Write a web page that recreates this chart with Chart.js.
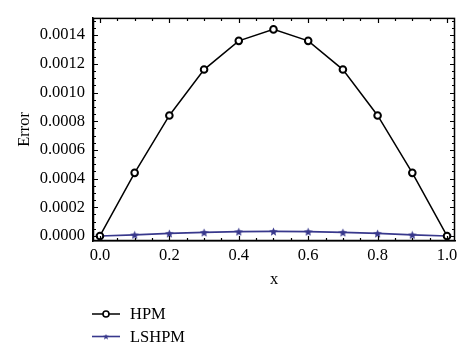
<!DOCTYPE html>
<html>
<head>
<meta charset="utf-8">
<script src="https://cdn.jsdelivr.net/npm/chart.js@4/dist/chart.umd.min.js"></script>
<style>
html,body{margin:0;padding:0;background:#fff;}
#wrap{width:474px;height:357px;position:relative;}
</style>
</head>
<body>
<div id="wrap"><canvas id="c" width="474" height="357"></canvas></div>
<script>
const xValues = [0.0, 0.1, 0.2, 0.3, 0.4, 0.5, 0.6, 0.7, 0.8, 0.9, 1.0];
const hpmValues = [0, 0.00044, 0.00084, 0.00116, 0.00136, 0.00144, 0.00136, 0.00116, 0.00084, 0.00044, 0];
const lshpmValues = [0, 0.000008, 0.000018, 0.000025, 0.00003, 0.000032, 0.00003, 0.000025, 0.000018, 0.000008, 0];
const xTickLabels = [0.0, 0.2, 0.4, 0.6, 0.8, 1.0];
const yTickLabels = [0, 0.0002, 0.0004, 0.0006, 0.0008, 0.0010, 0.0012, 0.0014];
const xMinor = 0.05;
const yMinor = 0.00005;
const seriesNames = ['HPM', 'LSHPM'];

const FONT = '"Liberation Serif", "DejaVu Serif", serif';
const navy = '#38388c';

function starCanvas(size, color) {
  const c = document.createElement('canvas');
  c.width = size; c.height = size;
  const g = c.getContext('2d');
  const cx = size / 2, cy = size / 2 + 0.5, R = size / 2, r = R * 0.45;
  g.beginPath();
  for (let i = 0; i < 10; i++) {
    const a = -Math.PI / 2 + i * Math.PI / 5;
    const rr = i % 2 === 0 ? R : r;
    const px = cx + rr * Math.cos(a), py = cy + rr * Math.sin(a);
    if (i === 0) g.moveTo(px, py); else g.lineTo(px, py);
  }
  g.closePath();
  g.fillStyle = color;
  g.fill();
  return c;
}
const star = starCanvas(9, navy);

const frameTicks = {
  id: 'frameTicks',
  afterDatasetsDraw(chart) {
    const ctx = chart.ctx;
    const a = chart.chartArea;
    const xs = chart.scales.x, ys = chart.scales.y;
    ctx.save();
    ctx.strokeStyle = '#000';
    ctx.lineWidth = 1.5;
    ctx.strokeRect(a.left + 0.5, a.top + 0.5, a.right - a.left - 1, a.bottom - a.top - 1);
    ctx.lineWidth = 1.2;
    ctx.beginPath();
    const nx = Math.round((xs.max - xs.min) / xMinor) + 2;
    for (let i = -2; i < nx; i++) {
      const v = Math.round((i * xMinor) * 1000) / 1000;
      if (v < xs.min || v > xs.max) continue;
      const px = Math.round(xs.getPixelForValue(v)) + 0.5;
      const major = Math.abs(v / 0.2 - Math.round(v / 0.2)) < 1e-6;
      const L = major ? 5 : 3;
      ctx.moveTo(px, a.bottom); ctx.lineTo(px, a.bottom - L);
      ctx.moveTo(px, a.top); ctx.lineTo(px, a.top + L);
    }
    const ny = Math.round((ys.max - ys.min) / yMinor) + 2;
    for (let i = -2; i < ny; i++) {
      const v = i * yMinor;
      if (v < ys.min || v > ys.max) continue;
      const py = Math.round(ys.getPixelForValue(v)) + 0.5;
      const major = Math.abs(v / 0.0002 - Math.round(v / 0.0002)) < 1e-6;
      const L = major ? 5 : 3;
      ctx.moveTo(a.left, py); ctx.lineTo(a.left + L, py);
      ctx.moveTo(a.right, py); ctx.lineTo(a.right - L, py);
    }
    ctx.stroke();
    ctx.restore();
  }
};

const customLegend = {
  id: 'customLegend',
  afterDraw(chart) {
    const ctx = chart.ctx;
    const a = chart.chartArea;
    const x0 = a.left - 1, x1 = a.left + 27;
    const ys = [314, 336.5];
    ctx.save();
    chart.data.datasets.forEach((ds, i) => {
      const y = ys[i];
      ctx.strokeStyle = ds.borderColor;
      ctx.lineWidth = ds.borderWidth;
      ctx.beginPath();
      ctx.moveTo(x0, y); ctx.lineTo(x1, y);
      ctx.stroke();
      const mx = (x0 + x1) / 2;
      if (i === 0) {
        ctx.fillStyle = '#fff';
        ctx.lineWidth = 1.6;
        ctx.beginPath(); ctx.arc(mx, y, 3, 0, Math.PI * 2); ctx.fill(); ctx.stroke();
      } else {
        ctx.drawImage(star, mx - 3, y - 3, 6, 6);
      }
      ctx.fillStyle = '#000';
      ctx.font = '16.5px ' + FONT;
      ctx.textBaseline = 'middle';
      ctx.textAlign = 'left';
      ctx.fillText(ds.label, x1 + 10, y + 1);
    });
    ctx.restore();
  }
};

new Chart(document.getElementById('c'), {
  type: 'line',
  data: {
    datasets: [
      {
        label: seriesNames[0],
        data: xValues.map((x, i) => ({ x: x, y: hpmValues[i] })),
        borderColor: '#000',
        borderWidth: 1.5,
        pointStyle: 'circle',
        pointRadius: 3.3,
        pointBorderWidth: 2,
        pointBackgroundColor: '#fff',
        pointBorderColor: '#000',
        tension: 0,
        clip: false
      },
      {
        label: seriesNames[1],
        data: xValues.map((x, i) => ({ x: x, y: lshpmValues[i] })),
        borderColor: navy,
        borderWidth: 1.6,
        pointStyle: star,
        pointRadius: 4.5,
        tension: 0,
        clip: false
      }
    ]
  },
  options: {
    responsive: false,
    animation: false,
    events: [],
    layout: { padding: { left: 0, top: 17, right: 19, bottom: 67 } },
    plugins: { legend: { display: false }, tooltip: { enabled: false } },
    scales: {
      x: {
        type: 'linear',
        min: -0.02,
        max: 1.023,
        grid: { display: false, drawTicks: false },
        border: { display: true, color: '#000', width: 1.5 },
        afterBuildTicks: (s) => { s.ticks = xTickLabels.map(v => ({ value: v })); },
        afterFit: (s) => { s.height = 49; },
        ticks: {
          padding: 5,
          color: '#000',
          font: { family: FONT, size: 16.5 },
          maxRotation: 0,
          autoSkip: false,
          callback: (v) => Number(v).toFixed(1)
        },
        title: { display: true, text: 'x', color: '#000', font: { family: FONT, size: 16.5 }, padding: { top: 0, bottom: 0 } }
      },
      y: {
        type: 'linear',
        min: -0.000035,
        max: 0.00152,
        grid: { display: false, drawTicks: false },
        border: { display: true, color: '#000', width: 1.5 },
        afterBuildTicks: (s) => { s.ticks = yTickLabels.map(v => ({ value: v })); },
        afterFit: (s) => { s.width = 93; },
        ticks: {
          padding: 8,
          color: '#000',
          font: { family: FONT, size: 16.5 },
          autoSkip: false,
          callback: (v) => Number(v).toFixed(4)
        },
        title: { display: true, text: 'Error', color: '#000', font: { family: FONT, size: 16.5 }, padding: { top: 15, bottom: 0 } }
      }
    }
  },
  plugins: [frameTicks, customLegend]
});
</script>
</body>
</html>
